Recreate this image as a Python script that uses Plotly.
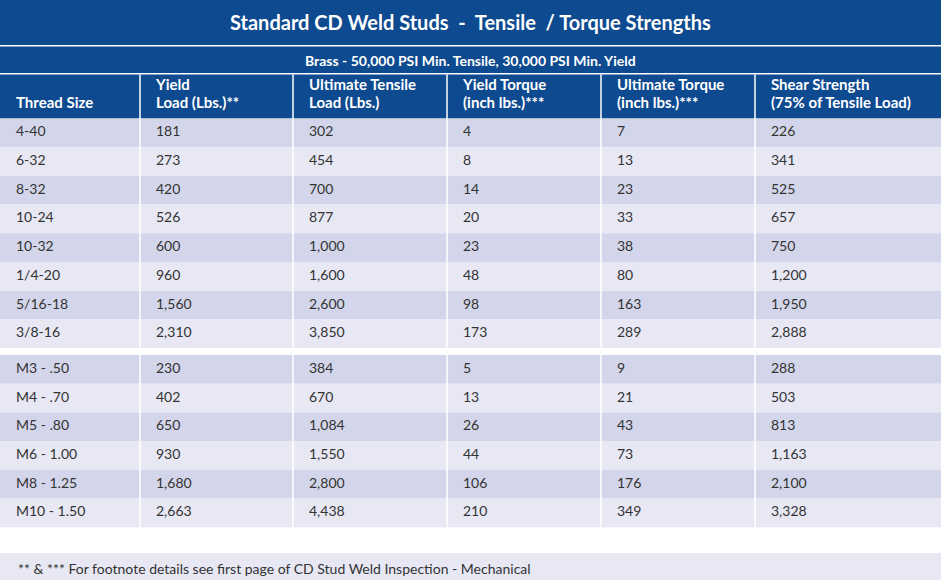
import plotly.graph_objects as go

title = "Standard CD Weld Studs  -  Tensile  / Torque Strengths"
subtitle = "Brass - 50,000 PSI Min. Tensile, 30,000 PSI Min. Yield"
headers = [
    ["", "Thread Size"],
    ["Yield", "Load (Lbs.)**"],
    ["Ultimate Tensile", "Load (Lbs.)"],
    ["Yield Torque", "(inch lbs.)***"],
    ["Ultimate Torque", "(inch lbs.)***"],
    ["Shear Strength", "(75% of Tensile Load)"],
]
imperial_rows = [
    ["4-40", "181", "302", "4", "7", "226"],
    ["6-32", "273", "454", "8", "13", "341"],
    ["8-32", "420", "700", "14", "23", "525"],
    ["10-24", "526", "877", "20", "33", "657"],
    ["10-32", "600", "1,000", "23", "38", "750"],
    ["1/4-20", "960", "1,600", "48", "80", "1,200"],
    ["5/16-18", "1,560", "2,600", "98", "163", "1,950"],
    ["3/8-16", "2,310", "3,850", "173", "289", "2,888"],
]
metric_rows = [
    ["M3 - .50", "230", "384", "5", "9", "288"],
    ["M4 - .70", "402", "670", "13", "21", "503"],
    ["M5 - .80", "650", "1,084", "26", "43", "813"],
    ["M6 - 1.00", "930", "1,550", "44", "73", "1,163"],
    ["M8 - 1.25", "1,680", "2,800", "106", "176", "2,100"],
    ["M10 - 1.50", "2,663", "4,438", "210", "349", "3,328"],
]
footnote = "** & *** For footnote details see first page of CD Stud Weld Inspection - Mechanical"

W, H = 941, 580
col_edges = [0, 140, 293, 447, 601, 755, 941]
BLUE = "#0e4a8f"
DARK = "#d3d6ea"
LIGHT = "#e7e8f4"
TXT = "#333333"
FONT = "Lato"
row_h = 28.7

shapes = []
def rect(x0, y0, x1, y1, color):
    shapes.append(dict(type="rect", x0=x0, x1=x1, y0=y0, y1=y1,
                       fillcolor=color, line_width=0, layer="below"))

rect(0, 0, W, 45, BLUE)
rect(0, 46.5, W, 73, BLUE)
rect(0, 74.5, W, 118.5, BLUE)

fig = go.Figure()
tx, ty, tt = [], [], []

def add_block(rows, top):
    for i, row in enumerate(rows):
        y0 = top + i * row_h
        rect(0, y0, W, y0 + row_h, DARK if i % 2 == 0 else LIGHT)
        for j, val in enumerate(row):
            tx.append(col_edges[j] + 16)
            ty.append(y0 + row_h / 2)
            tt.append(val)
    return top + len(rows) * row_h

end1 = add_block(imperial_rows, 118.5)
end2 = add_block(metric_rows, 355)

# white column separators
for x in col_edges[1:-1]:
    for y0, y1 in [(74.5, end1), (355, end2)]:
        shapes.append(dict(type="line", x0=x, x1=x, y0=y0, y1=y1,
                           line=dict(color="white", width=1.5)))

rect(0, 553, W, H, LIGHT)

fig.add_trace(go.Scatter(x=tx, y=ty, text=tt, mode="text", textposition="middle right",
                         textfont=dict(family=FONT, size=14, color=TXT), hoverinfo="skip"))

hx, hy, ht = [], [], []
for j, (l1, l2) in enumerate(headers):
    hx += [col_edges[j] + 16, col_edges[j] + 16]
    hy += [86, 104]
    ht += [l1, l2]
fig.add_trace(go.Scatter(x=hx, y=hy, text=ht, mode="text", textposition="middle right",
                         textfont=dict(family=FONT, size=15, color="white", weight="bold"),
                         hoverinfo="skip"))

annotations = [
    dict(x=W / 2, y=22, text="<b>" + title + "</b>", showarrow=False,
         font=dict(family=FONT, size=20, color="white")),
    dict(x=W / 2, y=60, text="<b>" + subtitle + "</b>", showarrow=False,
         font=dict(family=FONT, size=14, color="white")),
    dict(x=16, y=568, text=footnote, showarrow=False, xanchor="left",
         font=dict(family=FONT, size=14, color=TXT)),
]

fig.update_layout(
    width=W, height=H, margin=dict(l=0, r=0, t=0, b=0),
    paper_bgcolor="white", plot_bgcolor="white", showlegend=False,
    xaxis=dict(range=[0, W], visible=False, fixedrange=True),
    yaxis=dict(range=[H, 0], visible=False, fixedrange=True),
    shapes=shapes, annotations=annotations,
)
fig.write_html("out.html", config={"displayModeBar": False},
               post_script="document.body.style.margin='0';document.body.style.overflow='hidden';")
